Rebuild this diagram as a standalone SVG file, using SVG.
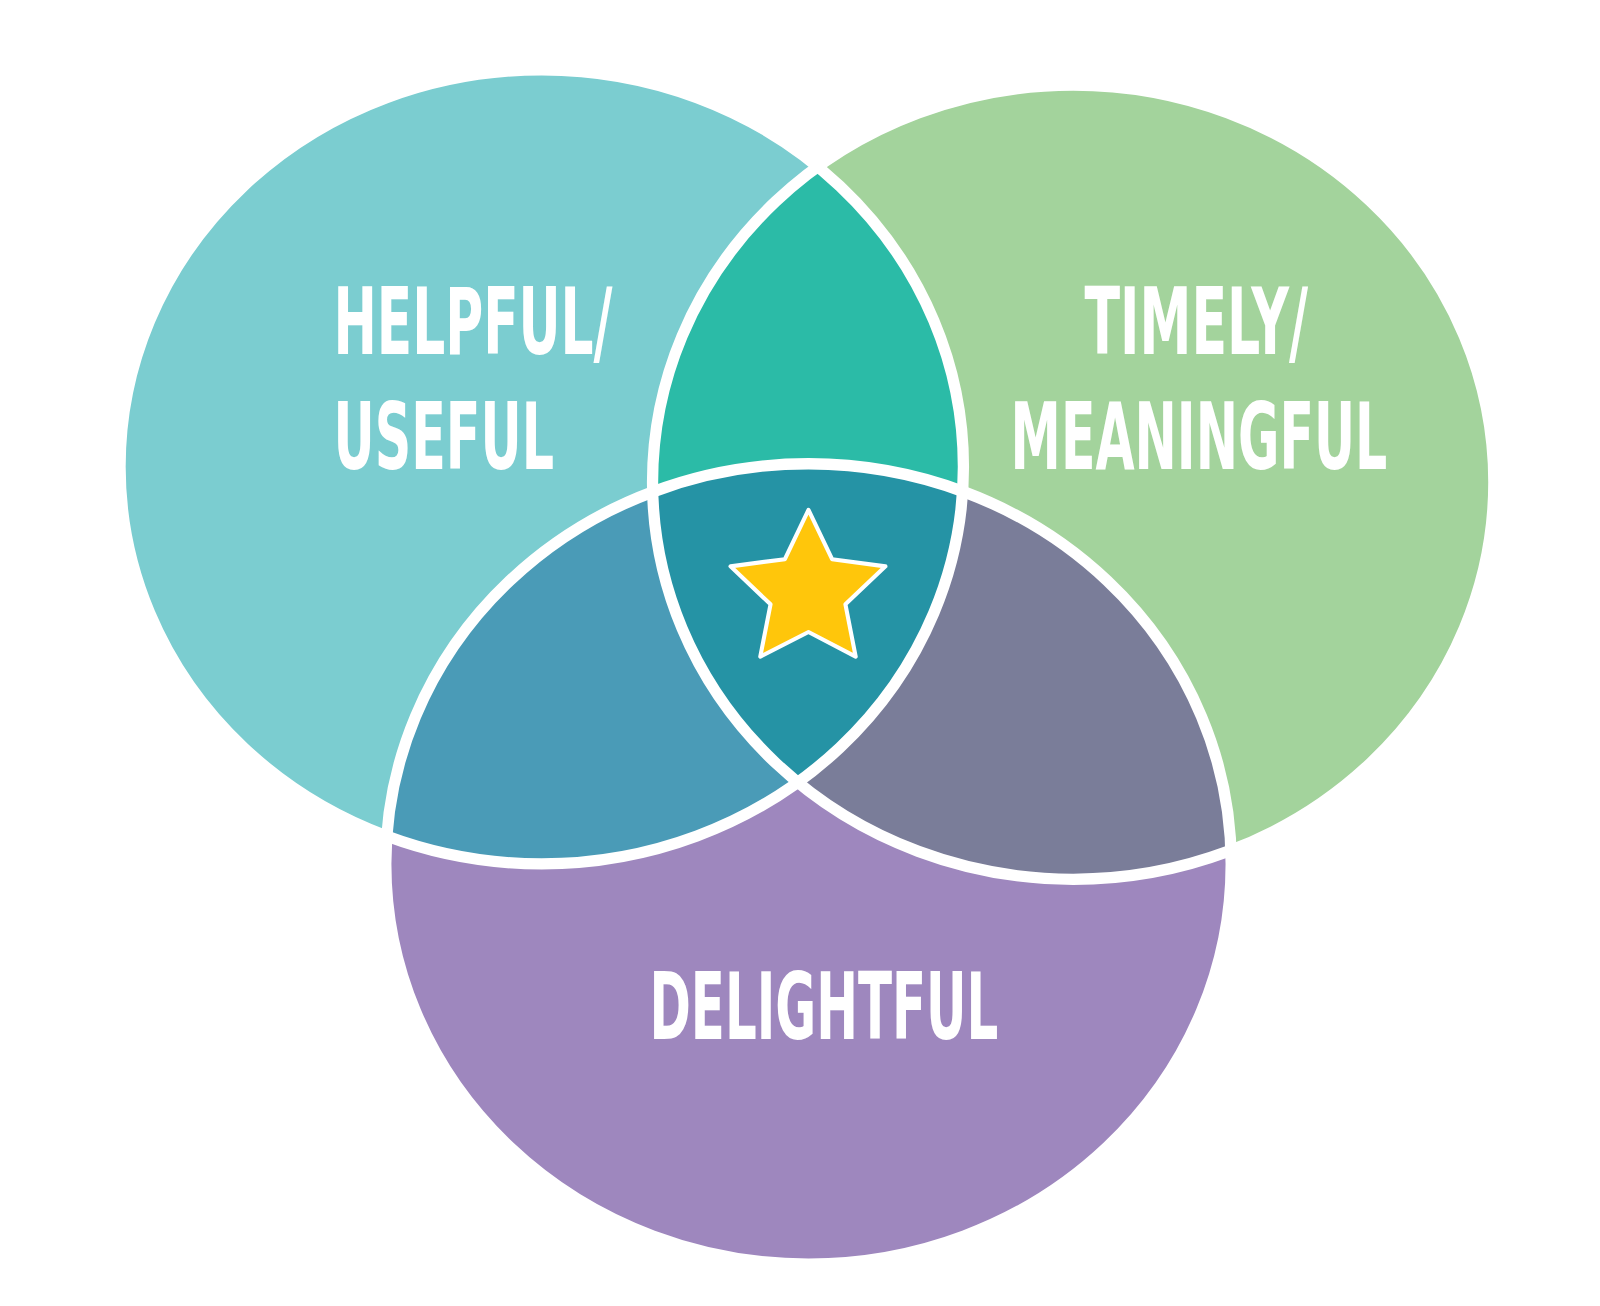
<svg xmlns="http://www.w3.org/2000/svg" width="1600" height="1306" viewBox="0 0 1600 1306">
<style>
.lbl{font-family:"DejaVu Sans Condensed","DejaVu Sans",sans-serif;font-weight:bold;font-size:90px;fill:#fff;}
.ol{fill:none;stroke:#fff;stroke-width:11;}
</style>
<defs>
<clipPath id="cR"><ellipse cx="1046" cy="470" rx="410" ry="387"/></clipPath>
<clipPath id="cB"><ellipse cx="788" cy="842" rx="412" ry="390"/></clipPath>
<clipPath id="cRB"><ellipse cx="1046" cy="470" rx="410" ry="387" clip-path="url(#cB)"/></clipPath>
</defs>
<rect width="1600" height="1306" fill="#fff"/>
<g transform="scale(1.026)">
<g id="helpful"><ellipse cx="528" cy="455" rx="411" ry="387" fill="#7BCDD0"/></g>
<g id="timely"><ellipse cx="1046" cy="470" rx="410" ry="387" fill="#A3D39C"/></g>
<g id="delightful"><ellipse cx="788" cy="842" rx="412" ry="390" fill="#9E87BE"/></g>
<g id="overlaps">
<ellipse cx="528" cy="455" rx="411" ry="387" fill="#2BBBA7" clip-path="url(#cR)"/>
<ellipse cx="528" cy="455" rx="411" ry="387" fill="#4A9BB7" clip-path="url(#cB)"/>
<ellipse cx="1046" cy="470" rx="410" ry="387" fill="#7A7D99" clip-path="url(#cB)"/>
<ellipse cx="528" cy="455" rx="411" ry="387" fill="#2593A5" clip-path="url(#cRB)"/>
</g>
<g id="outlines">
<ellipse class="ol" cx="528" cy="455" rx="411" ry="387"/>
<ellipse class="ol" cx="1046" cy="470" rx="410" ry="387"/>
<ellipse class="ol" cx="788" cy="842" rx="412" ry="390"/>
</g>
<g id="star"><polygon points="788,497 811,545 863,552 824,589 834,640 788,616 741,640 751,589 712,552 765,545" fill="#FFC60B" stroke="#fff" stroke-width="4" stroke-linejoin="round"/></g>
<g id="labels">
<text class="lbl" x="325" y="345" textLength="272" lengthAdjust="spacingAndGlyphs">HELPFUL/</text>
<text class="lbl" x="325" y="457" textLength="215" lengthAdjust="spacingAndGlyphs">USEFUL</text>
<text class="lbl" x="1057" y="345" textLength="218" lengthAdjust="spacingAndGlyphs">TIMELY/</text>
<text class="lbl" x="985" y="457" textLength="367" lengthAdjust="spacingAndGlyphs">MEANINGFUL</text>
<text class="lbl" x="633" y="1013" textLength="340" lengthAdjust="spacingAndGlyphs">DELIGHTFUL</text>
</g>
</g>
</svg>
